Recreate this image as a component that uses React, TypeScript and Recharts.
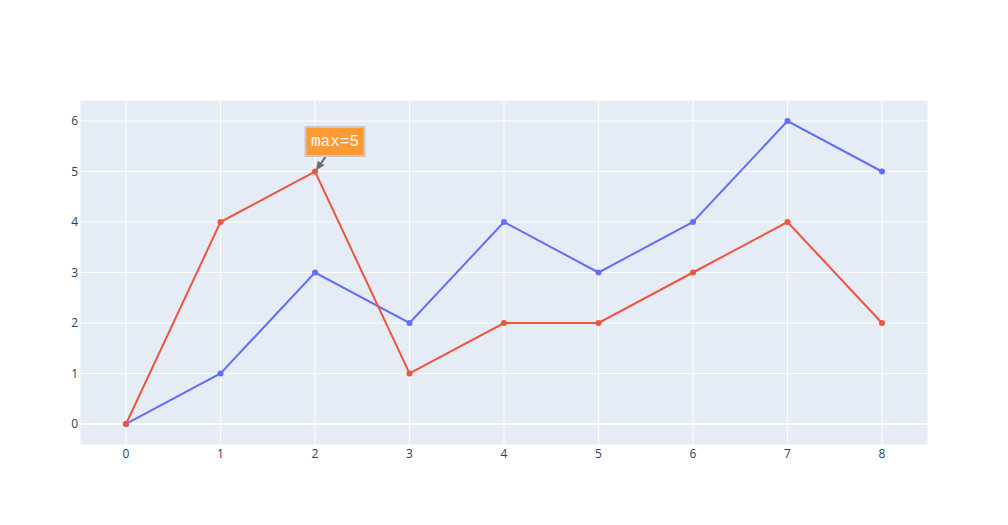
import {
  LineChart,
  Line,
  XAxis,
  YAxis,
  CartesianGrid,
  ReferenceLine,
  ReferenceDot,
} from 'recharts'

const xValues = [0, 1, 2, 3, 4, 5, 6, 7, 8]
const blueValues = [0, 1, 3, 2, 4, 3, 4, 6, 5]
const redValues = [0, 4, 5, 1, 2, 2, 3, 4, 2]
const xTicks = [0, 1, 2, 3, 4, 5, 6, 7, 8]
const yTicks = [0, 1, 2, 3, 4, 5, 6]

const maxRed = Math.max(...redValues)
const maxRedX = xValues[redValues.indexOf(maxRed)]

const data = xValues.map((x, i) => ({ x, blue: blueValues[i], red: redValues[i] }))

const tickStyle = { fill: '#2a3f5f', fontSize: 12, fontFamily: '"Open Sans", Verdana, Arial, sans-serif' }

// plotly-style annotation: box up/right of the point with an arrow pointing down at it
function MaxAnnotation(props: { cx?: number; cy?: number }) {
  const cx = props.cx ?? 0
  const cy = props.cy ?? 0
  const bx = cx + 20
  const by = cy - 30
  const w = 59
  const h = 29
  const tipX = cx + 1
  const tipY = cy - 1
  const startX = cx + 11
  const startY = by + h / 2
  const ang = Math.atan2(tipY - startY, tipX - startX)
  const hl = 9
  const hw = 4
  const baseX = tipX - hl * Math.cos(ang)
  const baseY = tipY - hl * Math.sin(ang)
  const px = -Math.sin(ang) * hw
  const py = Math.cos(ang) * hw
  return (
    <g>
      <line x1={startX} y1={startY} x2={baseX} y2={baseY} stroke="#6b6b6b" strokeWidth={2} />
      <polygon
        points={`${tipX},${tipY} ${baseX + px},${baseY + py} ${baseX - px},${baseY - py}`}
        fill="#6b6b6b"
      />
      <rect x={bx - w / 2} y={by - h / 2} width={w} height={h} fill="#ff9933" stroke="#c7c7c7" strokeWidth={2} />
      <text
        x={bx}
        y={by}
        fill="#ffffff"
        fontSize={16}
        fontFamily='"Liberation Mono", "Courier New", monospace'
        textAnchor="middle"
        dominantBaseline="central"
      >
        {`max=${maxRed}`}
      </text>
    </g>
  )
}

export default function App() {
  return (
    <div style={{ position: 'absolute', left: 0, top: 0, width: 1008, height: 525, background: '#fff' }}>
      <LineChart width={1008} height={525} data={data} margin={{ top: 100, right: 80, bottom: 0, left: 0 }}>
        <CartesianGrid stroke="#ffffff" strokeWidth={1} fill="#e5ecf6" fillOpacity={1} />
        <XAxis
          dataKey="x"
          type="number"
          domain={[-0.487, 8.487]}
          ticks={xTicks}
          axisLine={false}
          tickLine={false}
          tickSize={0}
          tickMargin={4}
          tick={tickStyle}
          height={80}
        />
        <YAxis
          type="number"
          domain={[-0.416, 6.416]}
          ticks={yTicks}
          axisLine={false}
          tickLine={false}
          tickSize={0}
          tickMargin={2}
          tick={tickStyle}
          width={80}
        />
        <ReferenceLine y={0} stroke="#ffffff" strokeWidth={2} />
        <Line
          dataKey="blue"
          stroke="#636efa"
          strokeWidth={2}
          dot={{ r: 3, fill: '#636efa', stroke: '#636efa', strokeWidth: 0 }}
          isAnimationActive={false}
        />
        <Line
          dataKey="red"
          stroke="#EF553B"
          strokeWidth={2}
          dot={{ r: 3, fill: '#EF553B', stroke: '#EF553B', strokeWidth: 0 }}
          isAnimationActive={false}
        />
        <ReferenceDot x={maxRedX} y={maxRed} ifOverflow="visible" shape={(p: any) => <MaxAnnotation {...p} />} />
      </LineChart>
    </div>
  )
}
